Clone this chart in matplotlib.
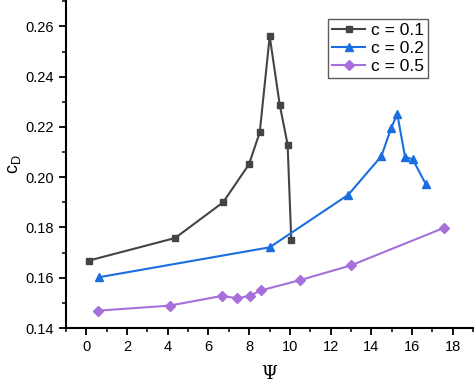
import matplotlib
matplotlib.use("Agg")
import matplotlib.pyplot as plt
from matplotlib.ticker import MultipleLocator

plt.rcParams['font.family'] = ['Liberation Sans', 'DejaVu Sans']

# c = 0.1
psi_01 = [0.11, 4.36, 6.72, 7.99, 8.52, 9.01, 9.50, 9.89, 10.07]
cd_01 = [0.1668, 0.1758, 0.190, 0.2051, 0.2178, 0.2561, 0.2289, 0.2130, 0.175]
# c = 0.2
psi_02 = [0.62, 9.01, 12.87, 14.50, 14.97, 15.28, 15.66, 16.04, 16.67]
cd_02 = [0.1602, 0.1721, 0.193, 0.2084, 0.2194, 0.2251, 0.2081, 0.2071, 0.1974]
# c = 0.5
psi_05 = [0.57, 4.09, 6.68, 7.39, 8.03, 8.60, 10.48, 13.0, 17.59]
cd_05 = [0.1469, 0.1489, 0.1528, 0.1518, 0.1528, 0.155, 0.159, 0.1649, 0.1799]

fig = plt.figure(figsize=(4.74, 3.82), dpi=100)
ax = fig.add_axes([66 / 474, 54 / 382, 407 / 474, 328 / 382])

ax.plot(psi_01, cd_01, color='#444444', marker='s', markersize=5, linewidth=1.5, label='c = 0.1')
ax.plot(psi_02, cd_02, color='#1a6ee0', marker='^', markersize=6, linewidth=1.5, label='c = 0.2')
ax.plot(psi_05, cd_05, color='#a66fd9', marker='D', markersize=5, linewidth=1.5, label='c = 0.5')

ax.set_xlim(-1, 19)
ax.set_ylim(0.14, 0.2705)
ax.xaxis.set_major_locator(MultipleLocator(2))
ax.xaxis.set_minor_locator(MultipleLocator(1))
ax.yaxis.set_major_locator(MultipleLocator(0.02))
ax.yaxis.set_minor_locator(MultipleLocator(0.01))
ax.yaxis.set_major_formatter(matplotlib.ticker.FormatStrFormatter('%.2f'))

for s in ['top', 'right']:
    ax.spines[s].set_visible(False)
for s in ['left', 'bottom']:
    ax.spines[s].set_linewidth(1.5)
ax.tick_params(which='major', direction='out', length=5, width=1.3, labelsize=10.5)
ax.tick_params(which='minor', direction='out', length=3, width=1.1)

ax.set_xlabel('Ψ', fontsize=13, family=['DejaVu Serif'], labelpad=8)
ax.set_ylabel('$\\mathregular{c_D}$', fontsize=13, labelpad=2)

leg = ax.legend(loc='upper left', bbox_to_anchor=((328 - 66) / 407, 1 - 19 / 328),
                fontsize=12.5, frameon=True, fancybox=False, edgecolor='#333333',
                handlelength=1.9, handletextpad=0.3, borderpad=0.25, labelspacing=0.15,
                borderaxespad=0)
leg.get_frame().set_linewidth(1.0)

fig.savefig('out.png', dpi=100)
